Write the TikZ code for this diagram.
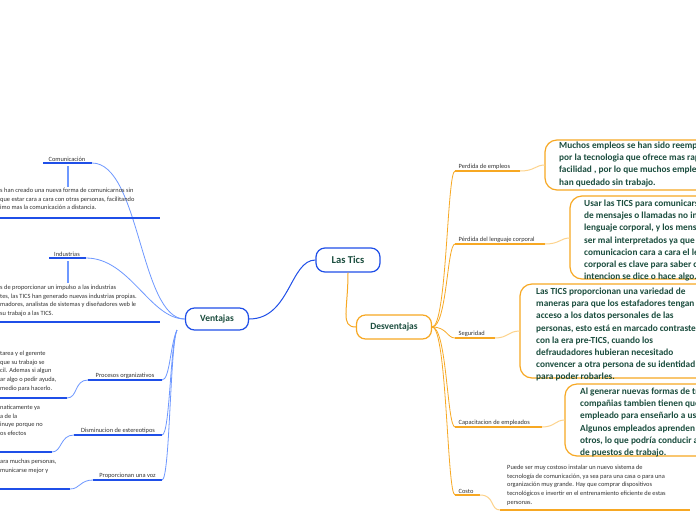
\documentclass[tikz,border=0pt]{standalone}
\usepackage{fontspec}
\setmainfont{Carlito}
\definecolor{tgreen}{HTML}{1B4D3E}
\definecolor{dblue}{HTML}{1F4FE8}
\definecolor{lblue}{HTML}{6E98FF}
\definecolor{orng}{HTML}{F7A823}
\definecolor{lorng}{HTML}{FDD38C}
\definecolor{gtext}{HTML}{333333}
\tikzset{
 root/.style={draw=dblue,line width=1.2pt,rounded corners=9pt,font=\fontsize{10.5}{12}\bfseries,text=tgreen,minimum width=64pt,minimum height=24pt},
 vmain/.style={draw=dblue,line width=1.2pt,rounded corners=9pt,font=\fontsize{9.5}{11}\bfseries,text=tgreen,minimum width=63pt,minimum height=22pt},
 dmain/.style={draw=orng,line width=1.2pt,rounded corners=9pt,font=\fontsize{9.5}{11}\bfseries,text=tgreen,minimum width=75pt,minimum height=24pt},
 lab/.style={font=\fontsize{6.4}{7}\selectfont,text=gtext,anchor=south,inner sep=1.5pt},
 small/.style={font=\fontsize{6.4}{8.6}\selectfont,text=gtext,align=left,inner sep=0pt},
 big/.style={font=\fontsize{9.3}{12.1}\bfseries,text=tgreen,align=left,inner sep=0pt,anchor=north west},
 obox/.style={draw=orng,line width=1.2pt,rounded corners=12pt},
 bul/.style={dblue,line width=1.3pt},
 oul/.style={orng,line width=1.5pt},
 bcon/.style={lblue,line width=0.8pt},
 ocon/.style={orng,line width=0.8pt},
 lcon/.style={lorng,line width=1pt},
}
\begin{document}
\begin{tikzpicture}[x=1pt,y=-1pt]
\clip (0,0) rectangle (696,520);
\fill[white] (0,0) rectangle (696,520);
\node[root] (tics) at (348,260) {Las Tics};
\node[vmain] (ven) at (217,319) {Ventajas};
\node[dmain] (des) at (394,327) {Desventajas};
\draw[dblue,line width=1pt] (tics.west) .. controls (290,260) and (290,319) .. (ven.east);
\draw[orng,line width=1pt] (tics.south) .. controls (348,310) and (340,327) .. (des.west);
% ---- Ventajas
\coordinate (c1a) at (43,163); \coordinate (c1b) at (92,163);
\node[lab] (com) at (67,163) {Comunicación};
\draw[bul] (c1a) -- (c1b);
\draw[bcon] (ven.west) .. controls (140,319) and (140,163) .. (c1b);
\draw[lblue,line width=1.2pt] (68,166) -- (68,187);
\node[small,anchor=north west] (comt) at (0,188) {s han creado una nueva forma de comunicarnos sin\\que estar cara a cara con otras personas, facilitando\\imo mas la comunicación a distancia.};
\draw[bul] (0,218) -- (160,218);
\coordinate (c2a) at (49,258); \coordinate (c2b) at (86,258);
\node[lab] (ind) at (67,258) {Industrias};
\draw[bul] (c2a) -- (c2b);
\draw[bcon] (ven.west) .. controls (150,319) and (130,258) .. (c2b);
\draw[lblue,line width=1.2pt] (68,261) -- (68,283);
\node[small,anchor=north west] (indt) at (0,285) {s de proporcionar un impulso a las industrias\\tes, las TICS han generado nuevas industrias propias.\\madores, analistas de sistemas y diseñadores web le\\su trabajo a las TICS.};
\draw[bul] (0,322) -- (160,322);
% lower branches
\coordinate (vs) at (177,330);
\foreach \y/\xa/\t/\n in {380/88/Procesos organizativos/p, 435/74/Disminucion de estereotipos/d, 480/93/Proporcionan una voz/v}{
  \draw[bul] (\xa,\y) coordinate (\n a) -- (162,\y) coordinate (\n b);
  \node[lab] (\n l) at ({(\xa+162)/2},\y) {\t};
  \draw[bcon] (vs) .. controls (170,345) and (170,\y) .. (\n b);
}
\node[small,anchor=north west] (pt) at (0,351) {tarea y el gerente\\que su trabajo se\\cil. Ademas si algun\\ar algo o pedir ayuda,\\medio para hacerlo.};
\draw[bul] (0,398) -- (67,398) coordinate (pe);
\draw[bcon] (pe) .. controls (78,398) and (74,380) .. (pa);
\node[small,anchor=north west] (dt) at (0,405) {naticamente ya\\a de la\\inuye porque no\\os efectos};
\draw[bul] (0,452) -- (52,452) coordinate (de);
\draw[bcon] (de) .. controls (62,452) and (60,435) .. (da);
\node[small,anchor=north west] (vt) at (0,459) {ara muchas personas,\\municarse mejor y};
\draw[bul] (0,489) -- (70,489) coordinate (ve);
\draw[bcon] (ve) .. controls (80,489) and (80,480) .. (va);
% ---- Desventajas
\foreach \y/\xb/\t/\n in {171/520/Perdida de empleos/e, 244/545/Pérdida del lenguaje corporal/l, 338/495/Seguridad/s, 427/542/Capacitacion de empleados/c, 495/480/Costo/k}{
  \draw[oul] (455,\y) coordinate (\n a) -- (\xb,\y) coordinate (\n b);
  \node[lab,anchor=south west] (\n l) at (457,\y) {\t};
  \draw[ocon] (des.east) .. controls (447,327) and (447,\y) .. (\n a);
}
\draw[obox] (545,140) rectangle (730,190);
\node[big] (et) at (559,142) {Muchos empleos se han sido reemplazados\\por la tecnologia que ofrece mas rapidez y\\facilidad , por lo que muchos empleados\\han quedado sin trabajo.};
\draw[lcon] (eb) .. controls (535,171) and (535,165) .. (545,165);
\draw[obox] (570,196) rectangle (740,279);
\node[big] (lt) at (584,200) {Usar las TICS para comunicarse a traves\\de mensajes o llamadas no incluye el\\lenguaje corporal, y los mensajes pueden\\ser mal interpretados ya que en la\\comunicacion cara a cara el lenguaje\\corporal es clave para saber con que\\intencion se dice o hace algo.};
\draw[lcon] (lb) .. controls (560,244) and (560,238) .. (570,238);
\draw[obox] (520,284) rectangle (740,378);
\node[big] (st) at (536,288) {Las TICS proporcionan una variedad de\\maneras para que los estafadores tengan\\acceso a los datos personales de las\\personas, esto está en marcado contraste\\con la era pre-TICS, cuando los\\defraudadores hubieran necesitado\\convencer a otra persona de su identidad\\para poder robarles.};
\draw[lcon] (sb) .. controls (508,338) and (508,331) .. (520,331);
\draw[obox] (565,384) rectangle (740,456);
\node[big] (ct) at (580,388) {Al generar nuevas formas de trabajo, las\\compañias tambien tienen que capacitar al\\empleado para enseñarlo a usarlas.\\Algunos empleados aprenden mas rapido que\\otros, lo que podría conducir a la pérdida\\de puestos de trabajo.};
\draw[lcon] (cb) .. controls (555,427) and (555,420) .. (565,420);
\node[small,anchor=north west] (kt) at (507,465) {Puede ser muy costoso instalar un nuevo sistema de\\tecnología de comunicación, ya sea para una casa o para una\\organización muy grande. Hay que comprar dispositivos\\tecnológicos e invertir en el entrenamiento eficiente de estas\\personas.};
\draw[oul] (500,510) coordinate (ka2) -- (690,510);
\draw[lcon] (kb) .. controls (495,495) and (490,510) .. (ka2);
\end{tikzpicture}
\end{document}
